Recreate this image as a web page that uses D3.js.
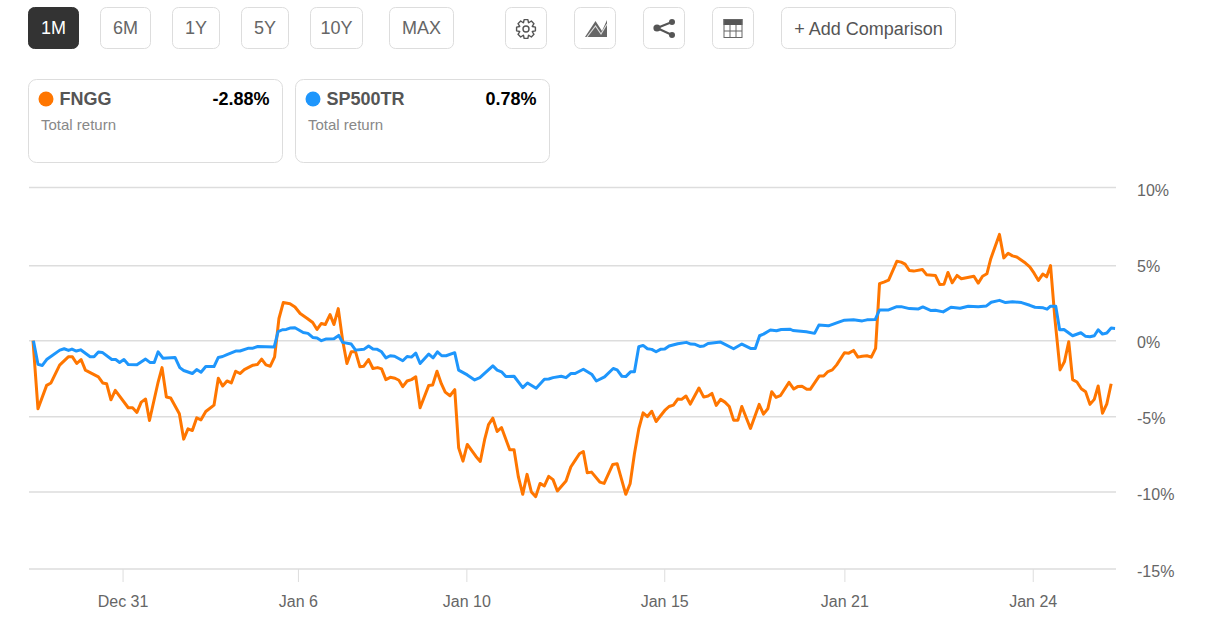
<!DOCTYPE html>
<html><head><meta charset="utf-8">
<script src="https://cdn.jsdelivr.net/npm/d3@7"></script>
<style>
html,body{margin:0;padding:0;background:#fff;overflow:hidden}
svg{display:block;font-family:"Liberation Sans",Arial,sans-serif}
</style></head><body><svg id="c" width="1206" height="624"></svg>
<script>
const rangeLabels=["1M","6M","1Y","5Y","10Y","MAX"];
const compareLabel="+ Add Comparison";
const seriesNames=["FNGG","SP500TR"];
const seriesReturns=["-2.88%","0.78%"];
const seriesNote="Total return";
const seriesColors=["#ff7600","#1e96fc"];
const yTicks=[10,5,0,-5,-10,-15];
const xTickLabels=["Dec 31","Jan 6","Jan 10","Jan 15","Jan 21","Jan 24"];
const xTickPos=[20.8,61.3,100.2,145.9,187.5,231];
const fnggPos=[0,1.15,3.15,4.15,6.15,8.15,9.1,10.1,11.1,12.1,15.1,16.1,17,18,19,22,23,24,25,26,26.9,28.9,29.8,30.8,31.8,33.8,34.8,35.8,36.8,37.8,38.8,39.9,41.8,42.8,43.8,44.8,45.8,46.8,47.8,48.8,50.8,51.8,52.8,53.8,54.8,55.8,56.8,57.8,59.35,60.5,61.7,63.35,64.6,65.6,66.6,67.5,68.6,69.5,70.5,71.5,72.5,73.5,74.5,75.5,76.4,77.5,78.5,79.6,80.5,81.5,82.5,83.6,84.5,85.4,86.4,87.4,88.4,89.4,91.4,92.3,93.3,94.3,95.2,96.3,97.4,98.3,99.3,100.3,102.3,103.3,104.3,105.2,106.2,107.2,108.2,110.1,111.1,112.1,113.1,114.1,115.1,116.1,117.1,118.1,119.1,120.1,121.1,123.1,124.2,125.2,126.2,127.1,128,129,130.9,131.9,133.9,134.9,136.9,137.9,138.9,139.9,140.9,141.9,142.9,143.9,144.8,145.9,146.9,147.9,148.9,149.8,150.8,151.8,153.8,154.9,155.9,156.8,157.8,158.8,159.8,160.8,161.8,162.8,163.7,165.7,167.7,168.7,169.7,170.6,171.6,172.6,174.6,175.7,176.6,177.6,178.7,179.5,181.6,182.6,183.6,184.6,185.6,187.4,188.4,189.5,190.5,191.5,192.6,193.6,194.6,195.5,196.5,197.6,199.5,200.5,201.4,202.4,203.4,205.4,206.4,208.4,209.4,210.4,211.3,212.3,213.4,214.4,217.3,218.3,219.3,220.3,221.2,223.2,224.2,225.2,226.2,227.2,229.2,230.2,231.2,232.2,233.2,234.1,235,236,237.2,238.2,239.2,240.1,241.1,242.1,243.1,244.1,245.1,246,247,248,249];
const fnggVal=[0,-4.48,-2.94,-2.78,-1.61,-1.06,-1.06,-1.5,-1.24,-1.94,-2.38,-2.78,-2.83,-3.89,-3.27,-4.41,-4.41,-4.72,-4.04,-3.84,-5.25,-2.72,-1.77,-3.71,-3.77,-4.81,-6.49,-5.81,-5.92,-5.08,-5.21,-4.66,-4.24,-2.47,-2.98,-2.65,-2.78,-2.01,-2.16,-1.9,-1.61,-1.57,-1.21,-1.59,-1.68,-1.06,1.48,2.54,2.47,2.25,1.81,1.48,1.21,.75,1.15,1.08,1.74,1.08,2.14,.04,-1.5,-.73,-.73,-1.72,-1.68,-1.24,-1.83,-1.77,-1.85,-2.56,-2.41,-2.47,-2.6,-3.02,-2.65,-2.56,-2.38,-4.41,-2.94,-2.91,-2.01,-2.83,-3.38,-3.62,-3.22,-7.06,-7.95,-6.84,-7.64,-7.97,-6.53,-5.52,-5.1,-5.98,-5.72,-7.2,-7.2,-9,-10.15,-8.83,-10,-10.3,-9.43,-9.6,-8.96,-9.18,-9.93,-9.27,-8.34,-7.9,-7.46,-7.31,-8.72,-8.68,-9.34,-9.43,-8.17,-8.12,-10.15,-9.45,-7.46,-5.81,-4.75,-4.99,-4.64,-5.32,-4.99,-4.59,-4.33,-4.24,-3.84,-3.86,-3.64,-4.17,-3.11,-3.71,-3.64,-3.47,-4.26,-3.86,-4.04,-4.33,-5.23,-5.23,-4.33,-5.78,-4.19,-4.83,-4.48,-3.36,-3.73,-3.62,-2.74,-3.18,-3.02,-3,-3.2,-3.2,-2.32,-2.32,-2.03,-1.92,-1.59,-.79,-.82,-.64,-1.08,-1.02,-.99,-1.08,-.51,3.8,3.91,4.04,5.28,5.23,5.1,4.68,4.64,4.75,4.39,4.35,3.75,3.77,4.55,3.86,4.35,4.13,4.3,3.84,4.3,4.46,5.45,7,5.5,5.8,5.63,5.56,5.17,4.92,4.5,4.02,4.44,4.26,5.01,1.48,-1.92,-1.39,-.07,-2.56,-2.72,-3.16,-3.36,-4.19,-3.86,-2.98,-4.77,-4.15,-2.83];
const spxPos=[0.1,1.15,2.15,3.15,6.2,7.2,8.2,9,10,11,13.2,14.1,15.1,16,18.2,19.1,20,21,22,24,26,27,28,28.9,30,32.8,33.9,34.8,36.8,37.8,38.8,39.9,41.8,42.8,43.8,44.8,46.8,47.8,49.8,50.8,51.9,55.7,56.6,57.6,58.5,59.35,60.5,62.4,63.5,64.6,65.6,66.6,67.6,69.5,70.6,71.5,73.5,74.5,76.4,77.5,78.5,79.5,80.5,81.5,82.5,83.5,85.4,86.4,87.4,88.4,89.4,91.4,92.4,93.4,94.4,95.4,97.4,98.3,100.3,102,103.2,106.2,107.2,108.2,109.2,111.1,113.1,114.2,116.2,118.1,119.1,120.1,122,123.1,124.2,125.2,127.1,129.1,130.1,132,134,134.9,136,136.9,138,138.9,139.9,140.9,141.9,142.9,143.9,144.9,145.9,146.9,148.9,150.9,151.9,152.9,154,154.9,155.9,158.8,161.8,163.7,165.7,166.8,167.8,168.7,170.3,171.7,172.8,174.8,175.5,178.6,180.5,181.5,183.7,185.6,187.4,189.5,191.5,192.6,194.5,195.5,197.6,199.5,200.5,202.4,204.5,205.5,207.4,208.4,210.2,212,214.1,216,218.3,220.2,221.3,223.2,224.6,226.2,228.3,230.2,231.4,233.3,234.2,235,236.2,237.1,238.1,240.1,242,243.1,244.1,245.1,246,247,248,249,249.9];
const spxVal=[0,-1.55,-1.63,-1.24,-.62,-.53,-.64,-.55,-.68,-.6,-1.06,-1.06,-.75,-.77,-1.24,-1.24,-1.43,-1.24,-1.57,-1.59,-1.21,-1.43,-1.43,-.73,-1.15,-1.1,-1.77,-1.96,-2.16,-1.9,-2.07,-1.7,-1.7,-1.1,-1.04,-.91,-.68,-.68,-.49,-.49,-.38,-.42,.6,.73,.75,.84,.86,.55,.49,.22,.18,0,.11,.13,.35,-.11,-.22,-.62,-.57,-.35,-.55,-.57,-.73,-1.13,-.99,-1.02,-1.32,-1.04,-1.08,-.82,-1.5,-.88,-1.13,-.73,-.99,-.99,-.79,-1.94,-2.25,-2.58,-2.43,-1.66,-1.94,-2.05,-2.36,-2.34,-3.09,-2.78,-3.13,-2.54,-2.52,-2.43,-2.34,-2.43,-2.16,-2.16,-1.88,-2.23,-2.65,-2.38,-1.83,-1.92,-2.34,-2.36,-2.05,-2.05,-.4,-.31,-.53,-.57,-.73,-.57,-.55,-.35,-.2,-.11,-.22,-.24,-.38,-.35,-.18,-.09,-.53,-.22,-.51,-.51,.33,.44,.71,.66,.75,.77,.68,.6,.49,1.04,.99,1.19,1.37,1.39,1.32,1.39,1.41,2.05,2.05,2.27,2.27,2.14,2.12,2.25,2.01,2.03,1.92,2.23,2.16,2.3,2.27,2.32,2.56,2.69,2.54,2.6,2.54,2.36,2.23,2.19,2.1,2.3,2.3,.73,.75,.33,.53,.29,.26,.33,.73,.44,.51,.84,.82];

const svg=d3.select("#c");
const x=d3.scaleLinear().domain([0,250]).range([33,1115.5]);
const y=d3.scaleLinear().domain(yTicks).range([187.5,265.7,340.7,416.7,492,569]);
const yLabel=d3.scaleLinear().domain([10,-15]).range([196,576.5]);

function box(g,bx,by,w,h,r,fill,stroke){
  return g.append("rect").attr("x",bx+.5).attr("y",by+.5).attr("width",w-1).attr("height",h-1).attr("rx",r)
    .attr("fill",fill).attr("stroke",stroke).attr("stroke-width",1);
}
// toolbar
const tb=svg.append("g");
const rangeBoxes=[[28,51],[100,51],[172,48],[241,48],[310,53],[389,65]];
rangeLabels.forEach((t,i)=>{
  const [bx,w]=rangeBoxes[i];
  box(tb,bx,7,w,42,6,i==0?"#333":"#fff",i==0?"#333":"#ddd");
  tb.append("text").attr("x",bx+w/2).attr("y",34).attr("text-anchor","middle").attr("font-size",18)
    .attr("fill",i==0?"#fff":"#666").text(t);
});
[[505,42],[574,42],[643,42],[712,42]].forEach(([bx,w])=>box(tb,bx,7,w,42,6,"#fff","#ddd"));
box(tb,781,7,175,42,6,"#fff","#ddd");
tb.append("text").attr("x",868.5).attr("y",35).attr("text-anchor","middle").attr("font-size",18).attr("fill","#555").text(compareLabel);
// gear icon
const gear=tb.append("g").attr("transform","translate(526,29)").attr("fill","none").attr("stroke","#555").attr("stroke-width",1.4);
const gp=[];for(let k=0;k<8;k++){const a=k*Math.PI/4;const b=Math.PI/8;
 const pts=[[6.8,a-b*.95],[9.6,a-b*.5],[9.6,a+b*.5],[6.8,a+b*.95]];
 pts.forEach(([r,t])=>gp.push([r*Math.cos(t),r*Math.sin(t)]));}
gear.append("path").attr("d",d3.line()(gp)+"Z").attr("stroke-linejoin","round");
gear.append("circle").attr("r",3);
// area icon
const ai=tb.append("g").attr("transform","translate(574,7)");
ai.append("path").attr("d","M11 30 L21.5 14 L28 24 L33 13 L33 30 Z").attr("fill","#666");
ai.append("path").attr("d","M13 30 L21.5 19 L27 27 L33 17").attr("fill","none").attr("stroke","#ddd").attr("stroke-width",1.2);
// share icon
const si=tb.append("g").attr("transform","translate(643,7)");
si.append("path").attr("d","M14 21 L29 15 M14 21 L29 28").attr("stroke","#555").attr("stroke-width",2).attr("fill","none");
[[14,21,3.6],[29,15,3],[29,28,3]].forEach(c=>si.append("circle").attr("cx",c[0]).attr("cy",c[1]).attr("r",c[2]).attr("fill","#555"));
// table icon
const ti=tb.append("g").attr("transform","translate(712,7)");
ti.append("rect").attr("x",11.5).attr("y",12).attr("width",19).attr("height",6).attr("fill","#555");
ti.append("rect").attr("x",12).attr("y",12.5).attr("width",18).attr("height",18).attr("fill","none").attr("stroke","#666");
ti.append("path").attr("d","M18 18V30M24 18V30M12 24H30").attr("stroke","#666").attr("fill","none");
// legend cards
const cards=[28,295];
seriesNames.forEach((n,i)=>{
  const cx=cards[i],g=svg.append("g");
  box(g,cx,79,255,84,8,"#fff","#ddd");
  g.append("circle").attr("cx",cx+18).attr("cy",99).attr("r",7.5).attr("fill",seriesColors[i]);
  g.append("text").attr("x",cx+31.5).attr("y",105).attr("font-size",18).attr("font-weight",700).attr("fill","#555").text(n);
  g.append("text").attr("x",cx+241.5).attr("y",105).attr("text-anchor","end").attr("font-size",18).attr("font-weight",700).attr("fill","#000").text(seriesReturns[i]);
  g.append("text").attr("x",cx+13).attr("y",130).attr("font-size",15).attr("fill","#888").text(seriesNote);
});
// grid + y labels
svg.append("g").selectAll("line").data(yTicks).join("line")
  .attr("x1",29).attr("x2",1116).attr("y1",d=>y(d)).attr("y2",d=>y(d)).attr("stroke","#ddd").attr("stroke-width",1.5);
svg.append("g").selectAll("text").data(yTicks).join("text")
  .attr("x",1137).attr("y",d=>yLabel(d)).attr("font-size",16).attr("fill","#666").text(d=>d+"%");
// x ticks
const xt=svg.append("g");
xTickLabels.forEach((t,i)=>{
  const px=x(xTickPos[i]);
  xt.append("line").attr("x1",px).attr("x2",px).attr("y1",569).attr("y2",582).attr("stroke","#ddd");
  xt.append("text").attr("x",px).attr("y",606.5).attr("text-anchor","middle").attr("font-size",16).attr("fill","#666").text(t);
});
// lines
const line=d3.line().x(d=>x(d[0])).y(d=>y(d[1])).curve(d3.curveLinear);
svg.append("path").attr("d",line(d3.zip(fnggPos,fnggVal))).attr("fill","none").attr("stroke",seriesColors[0]).attr("stroke-width",3).attr("stroke-linejoin","round");
svg.append("path").attr("d",line(d3.zip(spxPos,spxVal))).attr("fill","none").attr("stroke",seriesColors[1]).attr("stroke-width",3).attr("stroke-linejoin","round");
</script></body></html>
